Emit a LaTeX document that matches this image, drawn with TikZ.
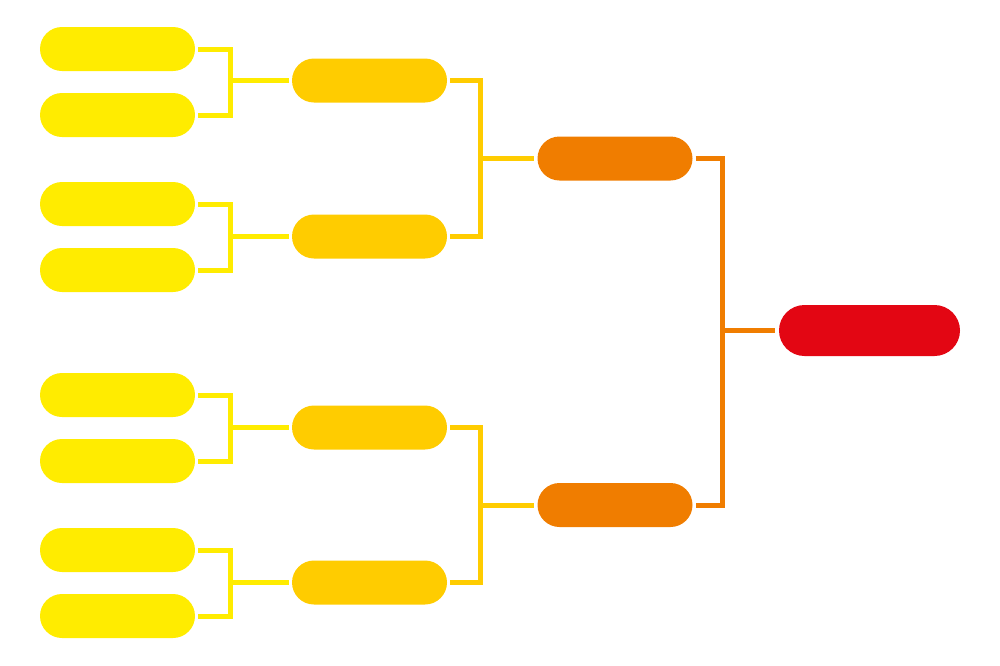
\documentclass[tikz,border=0pt]{standalone}
\usetikzlibrary{calc}
\definecolor{yA}{HTML}{FFEC00}
\definecolor{yB}{HTML}{FFCC00}
\definecolor{oC}{HTML}{F07D00}
\definecolor{rD}{HTML}{E30613}
\tikzset{
  pill/.style={rectangle, rounded corners=22pt, minimum width=155pt, minimum height=44pt, inner sep=0pt, draw=none},
  r1/.style={pill, fill=yA},
  r2/.style={pill, fill=yB},
  r3/.style={pill, fill=oC},
  fin/.style={rectangle, rounded corners=25.5pt, minimum width=181pt, minimum height=51pt, inner sep=0pt, draw=none, fill=rD},
  link/.style={line width=5pt, line join=miter, line cap=butt},
  l1/.style={link, draw=yA},
  l2/.style={link, draw=yB},
  l3/.style={link, draw=oC}
}
\begin{document}
\begin{tikzpicture}[x=1pt,y=-1pt]
\useasboundingbox (0,0) rectangle (1000,665);
% round 1
\node[r1] (a1) at (117.5,49) {};
\node[r1] (a2) at (117.5,115) {};
\node[r1] (a3) at (117.5,204) {};
\node[r1] (a4) at (117.5,270) {};
\node[r1] (a5) at (117.5,395) {};
\node[r1] (a6) at (117.5,461) {};
\node[r1] (a7) at (117.5,550) {};
\node[r1] (a8) at (117.5,616) {};
% round 2
\node[r2] (b1) at (369.5,80.5) {};
\node[r2] (b2) at (369.5,236.5) {};
\node[r2] (b3) at (369.5,427.5) {};
\node[r2] (b4) at (369.5,582.5) {};
% round 3
\node[r3] (c1) at (615,158.5) {};
\node[r3] (c2) at (615,505) {};
% final
\node[fin] (d) at (869.5,330.5) {};
% junctions
\coordinate (j1) at (230,80.5);
\coordinate (j2) at (230,236.5);
\coordinate (j3) at (230,427.5);
\coordinate (j4) at (230,582.5);
\coordinate (k1) at (480,158.5);
\coordinate (k2) at (480,505);
\coordinate (m) at (722,330.5);
% round 1 links
\draw[l1] ([xshift=3pt]a1.east) -| (j1) |- ([xshift=3pt]a2.east);
\draw[l1] (j1) -- ([xshift=-3pt]b1.west);
\draw[l1] ([xshift=3pt]a3.east) -| (j2) |- ([xshift=3pt]a4.east);
\draw[l1] (j2) -- ([xshift=-3pt]b2.west);
\draw[l1] ([xshift=3pt]a5.east) -| (j3) |- ([xshift=3pt]a6.east);
\draw[l1] (j3) -- ([xshift=-3pt]b3.west);
\draw[l1] ([xshift=3pt]a7.east) -| (j4) |- ([xshift=3pt]a8.east);
\draw[l1] (j4) -- ([xshift=-3pt]b4.west);
% round 2 links
\draw[l2] ([xshift=3pt]b1.east) -| (k1) |- ([xshift=3pt]b2.east);
\draw[l2] (k1) -- ([xshift=-3pt]c1.west);
\draw[l2] ([xshift=3pt]b3.east) -| (k2) |- ([xshift=3pt]b4.east);
\draw[l2] (k2) -- ([xshift=-3pt]c2.west);
% round 3 links
\draw[l3] ([xshift=3pt]c1.east) -| (m) |- ([xshift=3pt]c2.east);
\draw[l3] (m) -- ([xshift=-4pt]d.west);
\end{tikzpicture}
\end{document}
